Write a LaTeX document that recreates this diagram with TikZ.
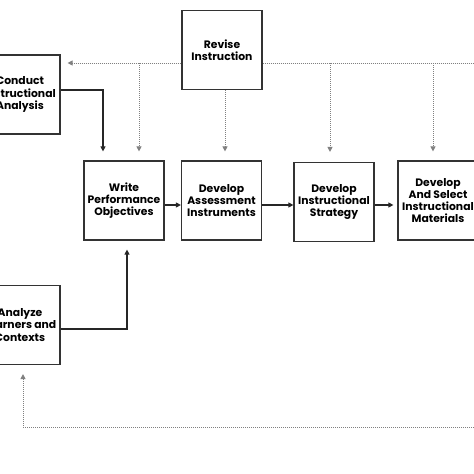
\documentclass[tikz,border=0pt]{standalone}
\usepackage{fontspec}
\setmainfont{Poppins}
\usetikzlibrary{arrows.meta}
\begin{document}
\begin{tikzpicture}[x=1pt,y=-1pt,
  box/.style={draw=black!80, line width=1.2pt, minimum width=80pt, minimum height=79pt, inner sep=0pt, align=center, font=\fontsize{10.8}{12.3}\selectfont\bfseries},
  solidarrow/.style={draw=black!85, line width=1.1pt, -{Triangle[length=5pt,width=5pt]}},
  solidline/.style={draw=black!85, line width=1.1pt},
  dotarrow/.style={draw=black!50, densely dotted, line width=1pt, -{Triangle[length=5pt,width=5pt]}},
  dotline/.style={draw=black!50, densely dotted, line width=1pt}]
\useasboundingbox (0,0) rectangle (474,474);
\clip (0,0) rectangle (474,474);
\fill[white] (0,0) rectangle (474,474);

\node[box] (revise) at (222,50) {Revise\\Instruction};
\node[box] (conduct) at (20,94.5) {Conduct\\Instructional\\Analysis};
\node[box] (write) at (124,200.5) {Write\\Performance\\Objectives};
\node[box] (assess) at (221.5,200.5) {Develop\\Assessment\\Instruments};
\node[box] (strategy) at (334,202) {Develop\\Instructional\\Strategy};
\node[box] (materials) at (438,200.5) {Develop\\And Select\\Instructional\\Materials};
\node[box] (analyze) at (20,325) {Analyze\\Learners and\\Contexts};

% top dotted feedback line
\coordinate (rl) at (revise.west |- 0,63);
\coordinate (rr) at (revise.east |- 0,63);
\coordinate (redge) at (480,63);
\coordinate (d1) at (139,63);
\coordinate (d3) at (330,63);
\coordinate (d4) at (433,63);
\draw[dotarrow, shorten >=7pt] (rl) -- (conduct.east |- rl);
\draw[dotline] (rr) -- (redge);
\draw[dotarrow, shorten >=9pt] (d1) -- (d1 |- write.north);
\draw[dotarrow, shorten >=9pt] (revise.south -| 225,0) -- (225,0 |- assess.north);
\draw[dotarrow, shorten >=10pt] (d3) -- (d3 |- strategy.north);
\draw[dotarrow, shorten >=9pt] (d4) -- (d4 |- materials.north);

% solid flows
\coordinate (c1) at (conduct.east |- 0,90);
\draw[solidarrow, shorten >=9pt] (c1) -| (103,0 |- write.north);
\draw[solidarrow] (write.east |- 0,205) -- (assess.west |- 0,205);
\draw[solidarrow] (assess.east |- 0,205) -- (strategy.west |- 0,205);
\draw[solidarrow, shorten >=4pt] (strategy.east |- 0,205) -- (materials.west |- 0,205);
\coordinate (a1) at (analyze.east |- 0,329);
\draw[solidarrow, shorten >=9pt] (a1) -| (127,0 |- write.south);

% bottom dotted feedback line
\coordinate (bedge) at (480,427);
\coordinate (bcorner) at (23,427);
\draw[dotarrow, shorten >=9pt] (bedge) -- (bcorner) -- (bcorner |- analyze.south);
\end{tikzpicture}
\end{document}
